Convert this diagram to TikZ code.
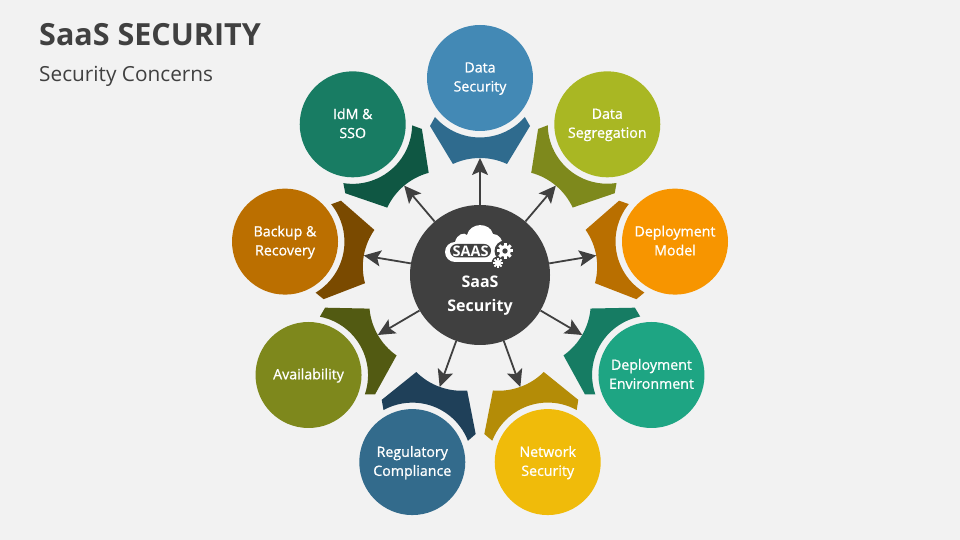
\documentclass[tikz,border=0pt]{standalone}
\usepackage{fontspec}
\usepackage{xcolor}
\usepackage{tikz}
\usetikzlibrary{arrows.meta}
\setmainfont{Open Sans}
\newfontfamily\semifont[FakeBold=0.9]{Open Sans}

\definecolor{pagebg}{HTML}{F2F2F2}
\definecolor{hubgray}{HTML}{404040}
\definecolor{dataC}{HTML}{4389B5}\definecolor{dataD}{HTML}{2F6B8E}
\definecolor{segC}{HTML}{A9B723}\definecolor{segD}{HTML}{7E891C}
\definecolor{modelC}{HTML}{F79500}\definecolor{modelD}{HTML}{B96F00}
\definecolor{envC}{HTML}{1EA583}\definecolor{envD}{HTML}{167C63}
\definecolor{netC}{HTML}{F0BB0A}\definecolor{netD}{HTML}{B48C07}
\definecolor{regC}{HTML}{336B8C}\definecolor{regD}{HTML}{1F4059}
\definecolor{availC}{HTML}{7E881C}\definecolor{availD}{HTML}{525A12}
\definecolor{backC}{HTML}{BB6F00}\definecolor{backD}{HTML}{7A4A00}
\definecolor{idmC}{HTML}{187C63}\definecolor{idmD}{HTML}{0F5743}

\tikzset{
    topic/.style={circle, minimum size=106pt, inner sep=0pt, text=white, align=center,
        text depth=2.2pt, font=\semifont\fontsize{14.2}{19}\selectfont},
    link/.style={-{Stealth[length=17pt,width=16pt,inset=3.5pt]}, line width=1.8pt, color=hubgray},
}

\begin{document}
\begin{tikzpicture}[x=1pt,y=1pt]
    \fill[pagebg] (0,0) rectangle (960,540);

    \node[anchor=west, text=hubgray, font=\bfseries\fontsize{30.5}{36}\selectfont, inner sep=0pt] (title) at (39,505) {SaaS SECURITY};
    \node[anchor=west, text=hubgray, font=\fontsize{20.8}{24}\selectfont, inner sep=0pt] (subtitle) at (39,464) {Security Concerns};

    \node[circle, fill=hubgray, minimum size=140pt, inner sep=0pt] (hub) at (480,265) {};

    % ring of topics
    \foreach \nm/\ang/\cc/\cd/\txt in {
        data/90/dataC/dataD/{Data\\Security},
        seg/50/segC/segD/{Data\\Segregation},
        model/10/modelC/modelD/{Deployment\\Model},
        env/-30/envC/envD/{Deployment\\Environment},
        net/-70/netC/netD/{Network\\Security},
        reg/-110/regC/regD/{Regulatory\\Compliance},
        avail/-150/availC/availD/{Availability},
        back/170/backC/backD/{Backup \&\\Recovery},
        idm/130/idmC/idmD/{IdM \&\\SSO}} {
        \begin{scope}[shift={(480,264)}, rotate=\ang-90]
            \fill[\cd] (-45,159) arc[start angle=221, end angle=319, radius=59.5]
                -- (50,150) -- (27,112)
                arc[start angle=65, end angle=115, radius=64]
                -- (-50,150) -- cycle;
            \coordinate (\nm tip) at (0,118);
            \node[topic, fill=\cc] (\nm) at (0,198) {\txt};
        \end{scope}
        \draw[link] (hub) -- (\nm tip);
    }

    % cloud and gears on the hub
    \fill[white] (455,278) arc[start angle=270, end angle=90, radius=10]
        .. controls (457,306) and (464,308) .. (467,305)
        .. controls (470,318) and (490,318) .. (493,306)
        .. controls (499,306) and (503,300) .. (503,294)
        -- (503,278) -- cycle;
    \fill[hubgray] (505,289) circle (10.5);
    \fill[hubgray] (498,277) circle (6.5);
    \fill[hubgray] (456.75,282.5) arc[start angle=270, end angle=90, radius=6.75] -- (484.25,296)
        arc[start angle=90, end angle=-90, radius=6.75] -- cycle;
    \node[text=white, font=\bfseries\fontsize{14.5}{16}\selectfont, inner sep=0pt] (saas) at (470.5,289) {SAAS};

    \foreach \a in {0,45,...,315} {
        \fill[white] (505,289) ++(\a:5) ++(\a+90:1.5) -- ++(\a:3) -- ++(\a-90:3) -- ++(\a+180:3) -- cycle;
        \fill[white] (498,277) ++(\a:2.5) ++(\a+90:1) -- ++(\a:2.5) -- ++(\a-90:2) -- ++(\a+180:2.5) -- cycle;
    }
    \fill[white, even odd rule] (505,289) circle (5.8) (505,289) circle (2.8);
    \fill[white] (498,277) circle (3);

    \node[text=white, align=center, font=\bfseries\fontsize{16}{24}\selectfont, inner sep=0pt] (hublabel) at (480,244) {SaaS\\Security};
\end{tikzpicture}
\end{document}
